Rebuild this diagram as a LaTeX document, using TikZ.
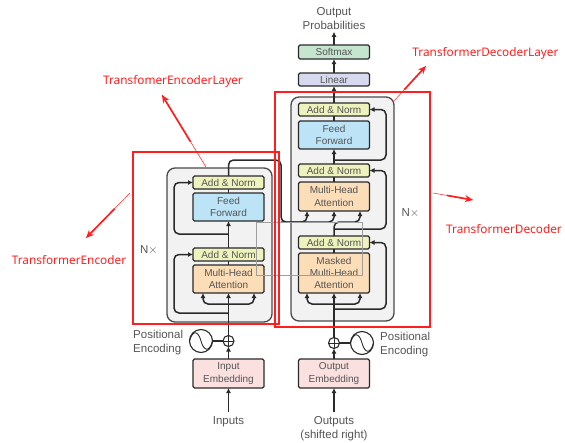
\documentclass[tikz,border=0pt]{standalone}
\usepackage{fontspec}
\setmainfont{Liberation Sans}
\newfontfamily\annofont{Noto Sans}
\usetikzlibrary{arrows.meta,calc}
\definecolor{txt}{HTML}{555555}
\definecolor{ink}{HTML}{2A2A2A}
\definecolor{addc}{HTML}{EEF3BE}
\definecolor{ffc}{HTML}{BCE3F6}
\definecolor{mhc}{HTML}{FBDDB8}
\definecolor{embc}{HTML}{FBE0E0}
\definecolor{softc}{HTML}{C6E5CF}
\definecolor{linc}{HTML}{D7DAEF}
\definecolor{outc}{HTML}{F2F2F2}
\definecolor{redc}{HTML}{FF1F1F}
\tikzset{
  x=1pt,y=-1pt,
  blk/.style={draw=ink,line width=1.3pt,rounded corners=1.5pt,inner sep=0pt,outer sep=0pt,
    minimum width=71pt,align=center,text=txt,font=\fontsize{10}{12.4}\selectfont},
  layerbox/.style={draw=ink!85,fill=outc,line width=1.3pt,rounded corners=8pt},
  lbl/.style={text=txt,font=\fontsize{11.5}{14}\selectfont,align=center,inner sep=1pt},
  nx/.style={text=txt,font=\fontsize{11.5}{14}\selectfont,inner sep=0pt},
  wire/.style={draw=ink,line width=1.5pt,rounded corners=5pt},
  tipw/.style={wire,-{Latex[length=5pt,width=5pt]}},
  tipb/.style={wire,{Latex[length=5pt,width=5pt]}-{Latex[length=5pt,width=5pt]}},
  ringn/.style={circle,draw=ink,line width=1.1pt,inner sep=0pt,outer sep=0pt},
  redbox/.style={draw=redc,line width=1.2pt},
  redthin/.style={draw=redc,line width=.5pt},
  redthick/.style={draw=redc,line width=1.7pt,-{Stealth[length=8pt,width=7pt]}},
  annot/.style={text=redc,font=\annofont\fontsize{11.8}{14}\selectfont,inner sep=0pt},
  thinbox/.style={draw=gray!75,line width=.7pt},
}
\begin{document}
\begin{tikzpicture}
\useasboundingbox (0,0) rectangle (565,442);
% layer frames
\node[layerbox,minimum width=105pt,minimum height=154pt,inner sep=0pt] (encframe) at (219.5,245) {};
\node[layerbox,minimum width=103pt,minimum height=224pt,inner sep=0pt] (decframe) at (342.5,209) {};
% encoder blocks
\node[blk,fill=addc,minimum height=13pt] (ean1) at (228.5,182.5) {Add \& Norm};
\node[blk,fill=ffc,minimum height=28pt] (eff) at (228.5,207) {Feed\\Forward};
\node[blk,fill=addc,minimum height=13pt] (ean2) at (228.5,254.5) {Add \& Norm};
\node[blk,fill=mhc,minimum height=28pt] (emh) at (228.5,279) {Multi-Head\\Attention};
\node[blk,fill=embc,minimum height=29pt] (eemb) at (228.5,373.5) {Input\\Embedding};
% decoder blocks
\node[blk,fill=softc,minimum height=14pt] (soft) at (334,52) {Softmax};
\node[blk,fill=linc,minimum height=13pt] (lin) at (334,79.5) {Linear};
\node[blk,fill=addc,minimum height=13pt] (dan1) at (334,109.5) {Add \& Norm};
\node[blk,fill=ffc,minimum height=28pt] (dff) at (334,135) {Feed\\Forward};
\node[blk,fill=addc,minimum height=13pt] (dan2) at (334,170.5) {Add \& Norm};
\node[blk,fill=mhc,minimum height=29pt] (dmh) at (334,196.5) {Multi-Head\\Attention};
\node[blk,fill=addc,minimum height=13pt] (dan3) at (334,242.5) {Add \& Norm};
\node[blk,fill=mhc,minimum height=40pt] (dmm) at (334,273) {Masked\\Multi-Head\\Attention};
\node[blk,fill=embc,minimum height=29pt] (demb) at (334,373.5) {Output\\Embedding};
% positional encoding
\node[ringn,minimum size=11pt] (eplus) at (228.5,341) {};
\node[ringn,minimum size=23pt] (esine) at (201,341) {};
\node[ringn,minimum size=11pt] (dplus) at (334,343) {};
\node[ringn,minimum size=23pt] (dsine) at (362,343) {};
\draw[line width=.8pt,ink] (eplus.west)--(eplus.east) (eplus.north)--(eplus.south);
\draw[line width=.8pt,ink] (dplus.west)--(dplus.east) (dplus.north)--(dplus.south);
\draw[line width=.9pt,ink] (esine.west) .. controls +(3,-11) and +(-3,-11) .. (esine.center) .. controls +(3,11) and +(-3,11) .. (esine.east);
\draw[line width=.9pt,ink] (dsine.west) .. controls +(3,-11) and +(-3,-11) .. (dsine.center) .. controls +(3,11) and +(-3,11) .. (dsine.east);
\draw[wire] (esine)--(eplus);
\draw[wire] (dplus)--(dsine);
% labels
\node[lbl] (outprob) at (334,18.5) {Output\\[0pt]Probabilities};
\node[lbl] (inl) at (228.5,421.5) {Inputs};
\node[lbl] (outl) at (334,428.5) {Outputs\\[0pt](shifted right)};
\node[lbl,anchor=west,align=left] (epos) at (132,343) {Positional\\[0pt]Encoding};
\node[lbl,anchor=west,align=left] (dpos) at (379,345) {Positional\\[0pt]Encoding};
\node[nx] (enx) at (149,250) {N$\times$};
\node[nx] (dnx) at (410.5,213) {N$\times$};
% encoder wires
\coordinate (ej1) at (228.5,313);
\coordinate (ej1l) at (174,313);
\coordinate (ej1t) at (174,254.5);
\coordinate (ej2) at (228.5,234);
\coordinate (ej2l) at (174,234);
\coordinate (ej2t) at (174,182.5);
\coordinate (eal) at (203,304);
\coordinate (ear) at (254,304);
\draw[tipw,shorten <=3pt] (inl.north)--(eemb.south);
\draw[tipw] (eemb.north)--(eplus.south);
\draw[tipw] (eplus.north)--(emh.south);
\draw[tipb] (emh.south -| eal)--(eal)--(ear)--(emh.south -| ear);
\draw[tipw] (ej1)--(ej1l)--(ej1t)--(ean2.west);
\draw[wire] (emh.north)--(ean2.south);
\draw[tipw] (ean2.north)--(eff.south);
\draw[wire] (eff.north)--(ean1.south);
\draw[tipw] (ej2)--(ej2l)--(ej2t)--(ean1.west);
% encoder to decoder
\coordinate (x1) at (228.5,160);
\coordinate (x2) at (281,160);
\coordinate (x3) at (281,222);
\coordinate (x4) at (307,222);
\coordinate (x5) at (334,222);
\coordinate (x6) at (360,222);
\coordinate (dbr) at (386,229);
\coordinate (dbc) at (334,229);
\draw[wire] (ean1.north)--(x1)--(x2)--(x3)--(x4);
\draw[tipw] (x3)--(x4)--(dmh.south -| x4);
\draw[tipw] (x4)--(x5)--(dmh.south -| x5);
\draw[tipw] (dan3.north)--(dbc |- x6)--(x6)--(dmh.south -| x6);
% decoder wires
\coordinate (dj1) at (334,309);
\coordinate (dj1r) at (386,309);
\coordinate (dj1t) at (386,242.5);
\coordinate (dj2t) at (386,170.5);
\coordinate (dj3) at (334,160);
\coordinate (dj3r) at (386,160);
\coordinate (dj3t) at (386,109.5);
\coordinate (dal) at (307,304);
\coordinate (dar) at (360,304);
\draw[tipw,shorten <=3pt] (outl.north)--(demb.south);
\draw[tipw] (demb.north)--(dplus.south);
\draw[tipw] (dplus.north)--(dmm.south);
\draw[tipb] (dmm.south -| dal)--(dal)--(dar)--(dmm.south -| dar);
\draw[tipw] (dj1)--(dj1r)--(dj1t)--(dan3.east);
\draw[wire] (dmm.north)--(dan3.south);
\draw[tipw] (dbc)--(dbr)--(dj2t)--(dan2.east);
\draw[wire] (dmh.north)--(dan2.south);
\draw[tipw] (dan2.north)--(dff.south);
\draw[tipw] (dj3)--(dj3r)--(dj3t)--(dan1.east);
\draw[wire] (dff.north)--(dan1.south);
\draw[tipw] (dan1.north)--(lin.south);
\draw[tipw] (lin.north)--(soft.south);
\draw[tipw,shorten >=1pt] (soft.north)--(outprob.south);
% thin grey rectangle
\coordinate (tba) at (256,222);
\coordinate (tbb) at (362,275);
\draw[thinbox] (tba) rectangle (tbb);
% red boxes
\node[redbox,minimum width=146pt,minimum height=172pt,inner sep=0pt] (rede) at (206,238) {};
\node[redbox,minimum width=155pt,minimum height=235pt,inner sep=0pt] (redd) at (352.5,209.5) {};
% annotations
\node[annot] (t1) at (173,81) {TransfomerEncoderLayer};
\node[annot] (t2) at (485.5,53) {TransformerDecoderLayer};
\node[annot] (t3) at (504,229) {TransformerDecoder};
\node[annot] (t4) at (69,260) {TransformerEncoder};
\coordinate (a1s) at (206,167); \coordinate (a1e) at (162,95);
\coordinate (a2s) at (393,102); \coordinate (a2e) at (426,66);
\coordinate (a3s) at (433,193); \coordinate (a3e) at (473,200);
\coordinate (a4s) at (130,193); \coordinate (a4e) at (86,238);
\draw[redthin] (a1s)--(a1e);
\draw[redthick] ($(a1s)!.35!(a1e)$)--(a1e);
\draw[redthin] (a2s)--(a2e);
\draw[redthick] ($(a2s)!.35!(a2e)$)--(a2e);
\draw[redthin] (a3s)--(a3e);
\draw[redthick] ($(a3s)!.35!(a3e)$)--(a3e);
\draw[redthin] (a4s)--(a4e);
\draw[redthick] ($(a4s)!.35!(a4e)$)--(a4e);
\end{tikzpicture}
\end{document}
